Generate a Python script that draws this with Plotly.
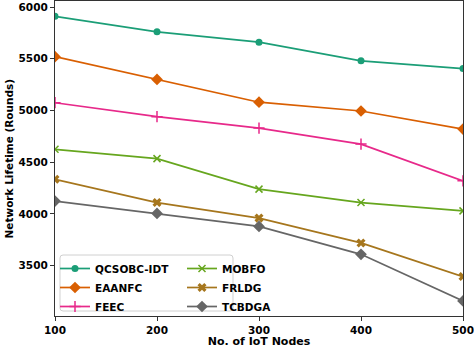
import plotly.graph_objects as go

# Number of IoT nodes on the x axis
nodes = [100, 200, 300, 400, 500]

# Network lifetime (rounds) per protocol
qcsobc_idt = [5910, 5760, 5660, 5480, 5405]
eaanfc = [5520, 5300, 5080, 4995, 4820]
feec = [5075, 4940, 4830, 4675, 4320]
mobfo = [4625, 4535, 4240, 4110, 4030]
frldg = [4335, 4110, 3960, 3720, 3395]
tcbdga = [4125, 4005, 3880, 3610, 3160]

x_ticks = [100, 200, 300, 400, 500]
y_ticks = [3500, 4000, 4500, 5000, 5500, 6000]

series = [
    ("QCSOBC-IDT", qcsobc_idt, "#1b9e77", "circle", 7, "legend"),
    ("EAANFC", eaanfc, "#d95f02", "diamond", 9, "legend"),
    ("FEEC", feec, "#e7298a", "cross-thin", 8, "legend"),
    ("MOBFO", mobfo, "#66a61e", "x-thin", 7, "legend2"),
    ("FRLDG", frldg, "#a6761d", "x", 8, "legend2"),
    ("TCBDGA", tcbdga, "#666666", "diamond", 9, "legend2"),
]

FONT = "DejaVu Sans"

fig = go.Figure()
for name, vals, color, symbol, size, leg in series:
    thin = symbol.endswith("-thin")
    fig.add_trace(go.Scatter(
        x=nodes, y=vals, name=name, mode="lines+markers", cliponaxis=True,
        line=dict(color=color, width=1.7),
        marker=dict(symbol=symbol, size=size, color=color,
                    line=dict(color=color, width=1.5 if thin else 0)),
        legend=leg,
    ))

W, H = 474, 348
ml, mr, mt, mb = 55, 11, 1, 32
pw = W - ml - mr
ph = H - mt - mb

def px_x(p):
    return (p - ml) / pw

def px_y(p):
    return 1 - (p - mt) / ph

legend_common = dict(
    bgcolor="rgba(0,0,0,0)", borderwidth=0,
    font=dict(family=FONT, size=10.5, color="black", weight="bold"),
    xanchor="left", yanchor="top", orientation="v",
    itemwidth=30, tracegroupgap=0,
)

# rounded legend frame, in paper coordinates
fx0, fx1, fy0, fy1, r = 60, 233, 255, 311, 3
def P(x, y):
    return f"{px_x(x):.5f},{px_y(y):.5f}"
frame_path = (
    f"M {P(fx0 + r, fy0)} L {P(fx1 - r, fy0)} Q {P(fx1, fy0)} {P(fx1, fy0 + r)} "
    f"L {P(fx1, fy1 - r)} Q {P(fx1, fy1)} {P(fx1 - r, fy1)} "
    f"L {P(fx0 + r, fy1)} Q {P(fx0, fy1)} {P(fx0, fy1 - r)} "
    f"L {P(fx0, fy0 + r)} Q {P(fx0, fy0)} {P(fx0 + r, fy0)} Z"
)

fig.update_layout(
    width=W, height=H,
    margin=dict(l=ml, r=mr, t=mt, b=mb),
    paper_bgcolor="white", plot_bgcolor="white",
    font=dict(family=FONT, size=10.5, color="black", weight="bold"),
    legend=dict(x=px_x(55), y=px_y(254), **legend_common),
    legend2=dict(x=px_x(182), y=px_y(254), **legend_common),
    xaxis=dict(
        range=[100, 500], tickvals=x_ticks, showgrid=False, zeroline=False,
        showline=True, linecolor="#333333", linewidth=1.3, mirror=True,
        ticks="outside", ticklen=4, tickwidth=1, tickcolor="#333333",
        title=dict(text="No. of IoT Nodes", standoff=4,
                   font=dict(family=FONT, size=11, weight="bold")),
        tickfont=dict(family=FONT, size=10.5, weight="bold"),
    ),
    yaxis=dict(
        range=[3014, 6058], tickvals=y_ticks, showgrid=False, zeroline=False,
        showline=True, linecolor="#333333", linewidth=1.3, mirror=True,
        ticks="outside", ticklen=4, tickwidth=1, tickcolor="#333333",
        tickfont=dict(family=FONT, size=10.5, weight="bold"),
    ),
    shapes=[dict(
        type="path", xref="paper", yref="paper", path=frame_path,
        line=dict(color="#d0d0d0", width=1), fillcolor="rgba(255,255,255,0.8)",
        layer="above",
    )],
    annotations=[dict(
        text="Network Lifetime (Rounds)", textangle=-90,
        xref="paper", yref="paper", x=px_x(8), y=0.5,
        xanchor="center", yanchor="middle", showarrow=False,
        font=dict(family=FONT, size=10.5, weight="bold", color="black"),
    )],
)

fig.write_html("out.html")
